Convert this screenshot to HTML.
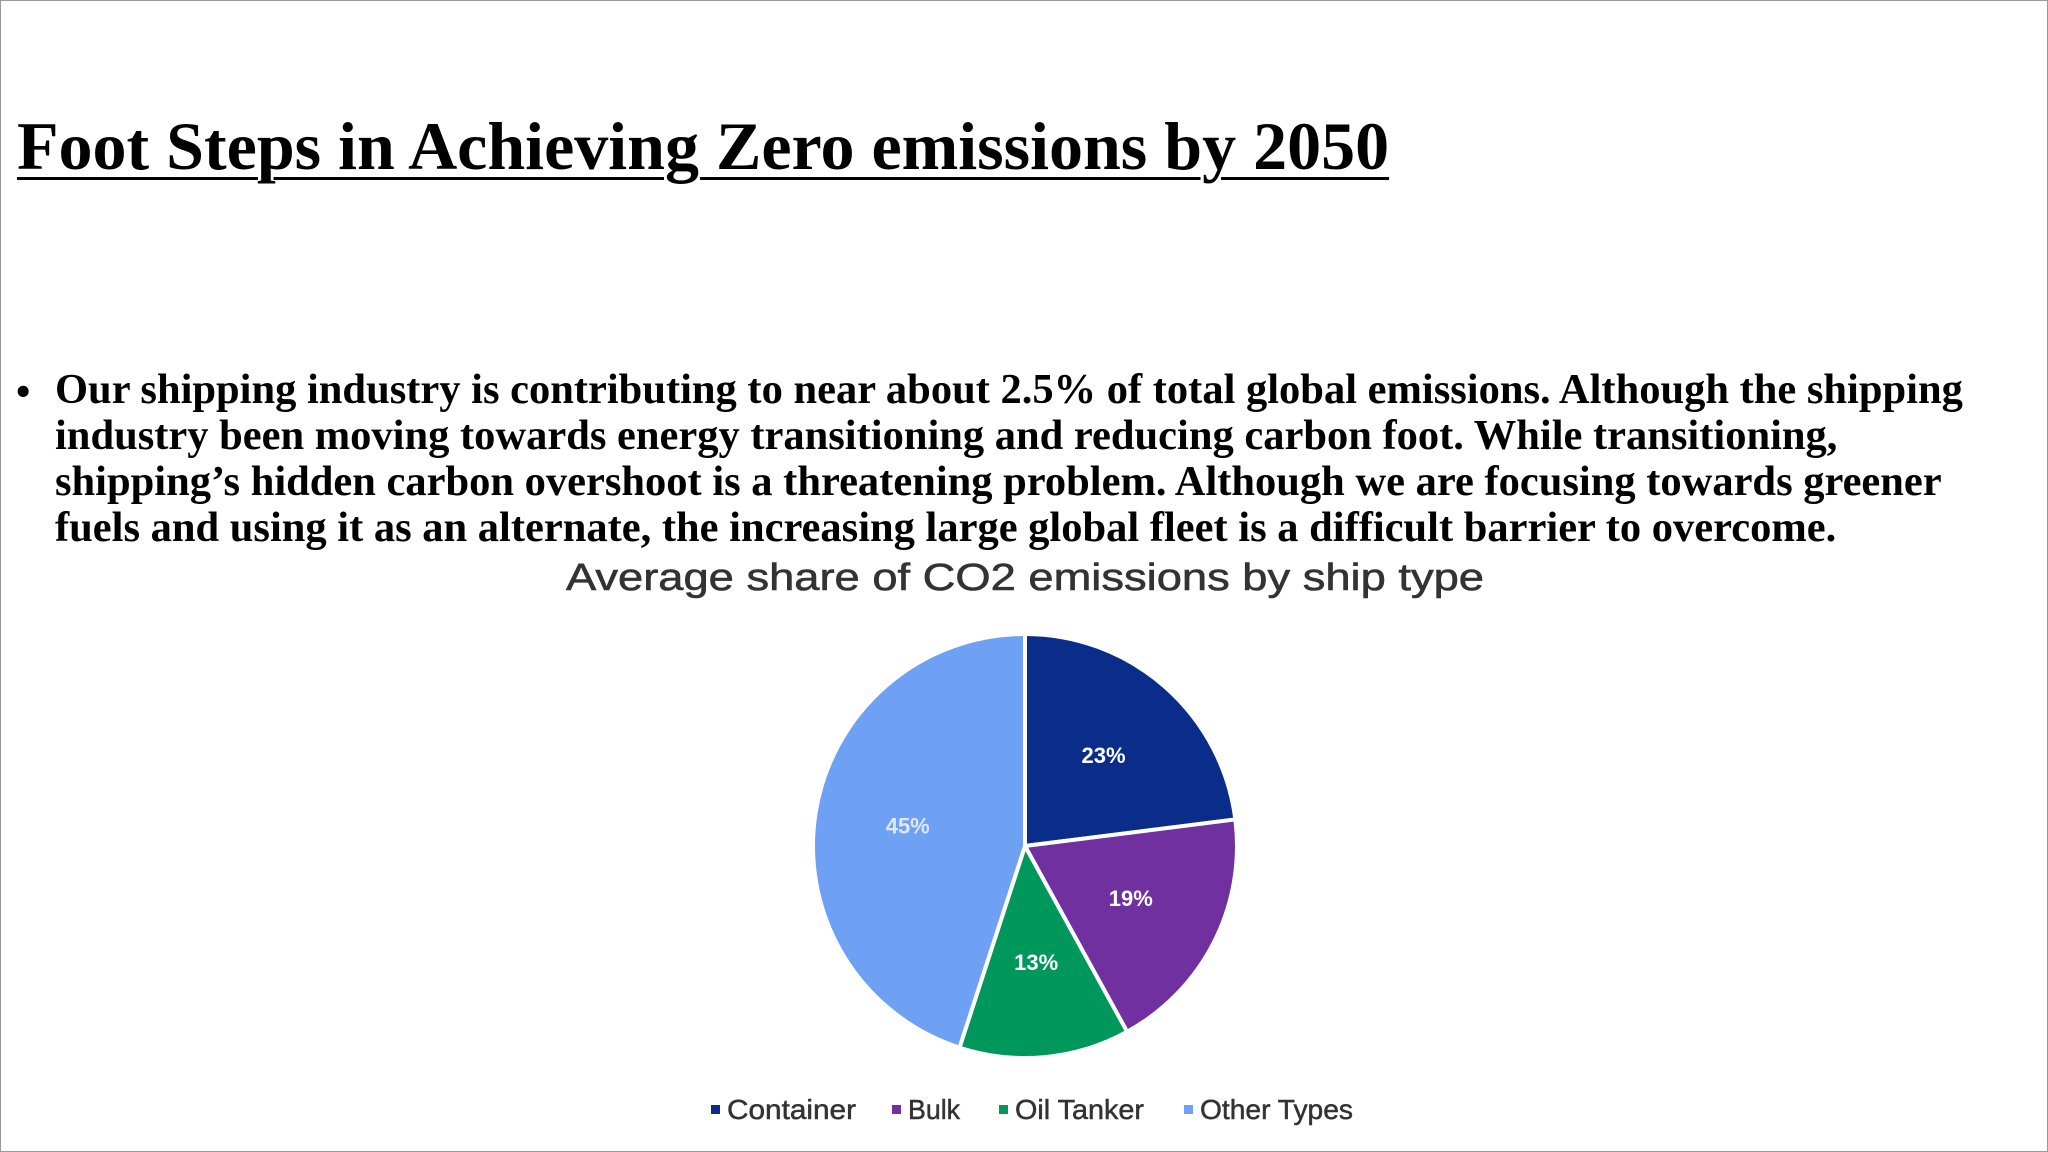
<!DOCTYPE html>
<html><head><meta charset="utf-8">
<style>
html,body{margin:0;padding:0;background:#fff;}
#page{position:relative;width:2046px;height:1150px;border:1px solid #999;overflow:hidden;font-family:"Liberation Serif",serif;}
#title{position:absolute;left:16px;top:106px;font-size:68px;font-weight:bold;text-decoration:underline;text-decoration-thickness:3px;text-underline-offset:8px;white-space:nowrap;color:#000;}
#bullet{position:absolute;left:15px;top:366px;font-size:41px;font-weight:bold;color:#000;}
#body{position:absolute;left:54px;top:366px;font-size:42.5px;font-weight:bold;line-height:46px;color:#000;white-space:nowrap;}
svg{position:absolute;left:0;top:0;}
</style></head><body>
<div id="page">
<div id="title">Foot Steps in Achieving Zero emissions by 2050</div>
<div id="bullet">•</div>
<div id="body">Our shipping industry is contributing to near about 2.5% of total global emissions. Although the shipping<br>industry been moving towards energy transitioning and reducing carbon foot. While transitioning,<br>shipping’s hidden carbon overshoot is a threatening problem. Although we are focusing towards greener<br>fuels and using it as an alternate, the increasing large global fleet is a difficult barrier to overcome.</div>
<svg id="chart" width="2048" height="1152">
<text x="1024" y="589" text-anchor="middle" font-family="Liberation Sans, sans-serif" font-size="38" fill="#333" stroke="#333" stroke-width="0.6" textLength="918" lengthAdjust="spacingAndGlyphs">Average share of CO2 emissions by ship type</text>
<g id="slices"></g><g id="labels"></g><g id="legend"></g>
</svg>
</div>
<script>
const categories=["Container","Bulk","Oil Tanker","Other Types"];
const values=[23,19,13,45];
const valueLabels=["23%","19%","13%","45%"];
const colors=["#0b2d8a","#7030a0","#00975c","#6ea0f4"];
const labelColors=["#fff","#fff","#fff","#dfe8ff"];
const cx=1024,cy=845,r=212;
const ns="http://www.w3.org/2000/svg";
const total=values.reduce((a,b)=>a+b,0);
let acc=0;
const sg=document.getElementById('slices'),lg=document.getElementById('labels'),leg=document.getElementById('legend');
function pt(a,rr){return [cx+Math.sin(a)*rr,cy-Math.cos(a)*rr];}
values.forEach((v,i)=>{
  const a0=acc/total*2*Math.PI;acc+=v;const a1=acc/total*2*Math.PI;
  const p0=pt(a0,r),p1=pt(a1,r);
  const p=document.createElementNS(ns,'path');
  p.setAttribute('d',`M${cx},${cy}L${p0[0]},${p0[1]}A${r},${r} 0 ${a1-a0>Math.PI?1:0} 1 ${p1[0]},${p1[1]}Z`);
  p.setAttribute('fill',colors[i]);p.setAttribute('stroke','#fff');p.setAttribute('stroke-width','4');
  
  
  sg.appendChild(p);
  const m=pt((a0+a1)/2,r*0.56);
  const t=document.createElementNS(ns,'text');
  t.setAttribute('x',m[0]);t.setAttribute('y',m[1]+6);t.setAttribute('text-anchor','middle');
  t.setAttribute('font-family','Liberation Sans, sans-serif');t.setAttribute('font-size','22');t.setAttribute('font-weight','bold');
  t.setAttribute('fill',labelColors[i]);t.textContent=valueLabels[i];
  
  
  lg.appendChild(t);
});
const legX=[710,891,998,1183];
const legW=[129,52,129,153];
categories.forEach((c,i)=>{
  const g=document.createElementNS(ns,'g');
  
  
  const s=document.createElementNS(ns,'rect');
  s.setAttribute('x',legX[i]);s.setAttribute('y',1104);s.setAttribute('width',9);s.setAttribute('height',9);s.setAttribute('fill',colors[i]);
  const t=document.createElementNS(ns,'text');
  t.setAttribute('x',legX[i]+16);t.setAttribute('y',1118);t.setAttribute('font-family','Liberation Sans, sans-serif');t.setAttribute('font-size','28');t.setAttribute('fill','#333');
  t.setAttribute('stroke','#333');t.setAttribute('stroke-width','0.5');
  t.setAttribute('textLength',legW[i]);t.setAttribute('lengthAdjust','spacingAndGlyphs');
  t.textContent=c;
  g.appendChild(s);g.appendChild(t);leg.appendChild(g);
});
</script>
</body></html>
